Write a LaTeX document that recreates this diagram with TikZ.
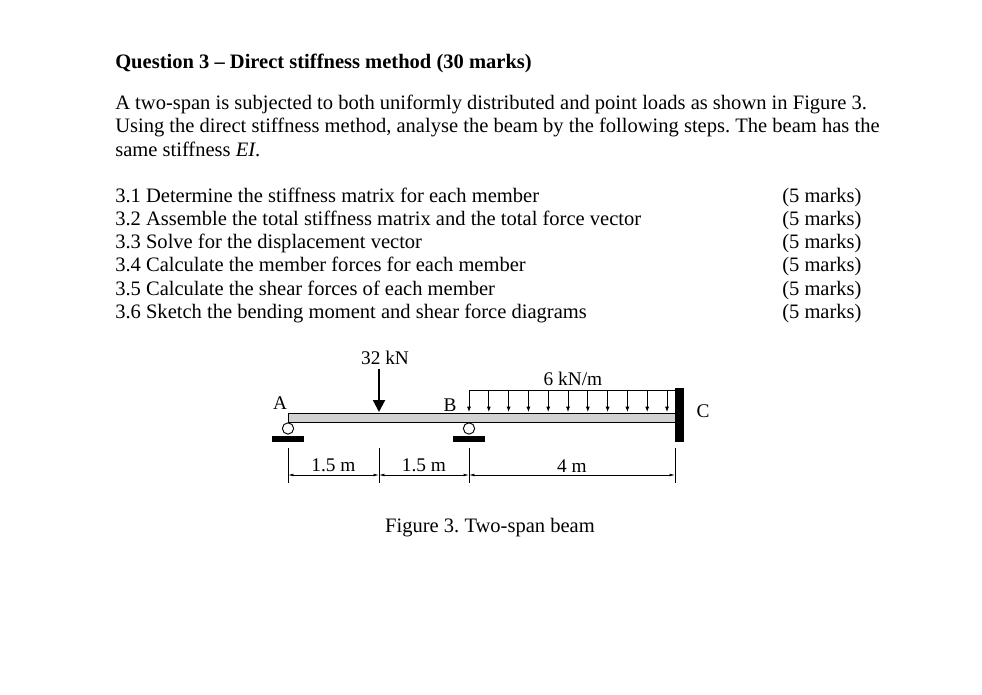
\documentclass[tikz,border=0pt]{standalone}
\usepackage{fontspec}
\setmainfont{Liberation Serif}
\usetikzlibrary{arrows.meta}
\frenchspacing
\begin{document}
\begin{tikzpicture}[x=0.75pt,y=-0.75pt,
  txt/.style={anchor=base west,inner sep=0pt,font=\fontsize{15.4}{17}\selectfont},
  sm/.style={inner sep=0pt,font=\fontsize{14.5}{16}\selectfont},
  dim/.style={{Latex[length=4pt,width=2pt]}-{Latex[length=4pt,width=2pt]},line width=0.5pt},
  ld/.style={-{Latex[length=4pt,width=3pt]},line width=0.6pt}]
\useasboundingbox (0,0) rectangle (982,695);
\node[txt,font=\bfseries\fontsize{15.4}{17}\selectfont] (t) at (115,69) {Question 3 -- Direct stiffness method (30 marks)};
\node[txt] (p1) at (115,110) {A two-span is subjected to both uniformly distributed and point loads as shown in Figure 3.};
\node[txt] (p2) at (115,133) {Using the direct stiffness method, analyse the beam by the following steps. The beam has the};
\node[txt] (p3) at (115,157) {same stiffness \textit{EI}.};
\foreach \i/\s/\y in {1/Determine the stiffness matrix for each member/203,
  2/Assemble the total stiffness matrix and the total force vector/226,
  3/Solve for the displacement vector/249,
  4/Calculate the member forces for each member/272,
  5/Calculate the shear forces of each member/296,
  6/Sketch the bending moment and shear force diagrams/319}{
  \node[txt] (q\i) at (115,\y) {3.\i\ \s};
  \node[txt] (m\i) at (782,\y) {(5 marks)};
}
% beam
\fill[gray!35] (288,413) rectangle (675,422);
\draw[line width=0.7pt] (288,413) rectangle (675,422);
\node[fill=black,minimum width=9pt*0.75,minimum height=54pt*0.75,inner sep=0pt] (wall) at (679.5,415) {};
% supports
\foreach \x/\n in {288/a,469/b}{
  \node[circle,draw,line width=0.7pt,minimum size=8.5pt,inner sep=0pt,fill=white] (s\n) at (\x,428.5) {};
  \fill (\x-16,436) rectangle (\x+16,442);
}
% point load
\coordinate (pt) at (379,369);
\coordinate (pb) at (379,412);
\draw[-{Triangle[length=9pt,width=9pt]},line width=1.6pt] (pt) -- (pb);
\node[sm] (lp) at (385,358) {32 kN};
% UDL
\draw[line width=0.6pt] (469,390) -- (675,390);
\foreach \k in {0,...,10}{
  \coordinate (u\k) at ({469+\k*19.8},390);
  \coordinate (v\k) at ({469+\k*19.8},412);
  \draw[ld] (u\k) -- (v\k);
}
\node[sm] (lw) at (573,379) {6 kN/m};
\node[sm] (la) at (280,403) {A};
\node[sm] (lb) at (450,405) {B};
\node[sm] (lc) at (703,411) {C};
% dimensions
\foreach \x/\n in {288/0,379/1,469/2,675/3}{
  \draw[line width=0.5pt] (\x,448) -- (\x,483);
  \coordinate (d\n) at (\x,475);
}
\draw[dim] (d0) -- node[sm,above=2pt] {1.5 m} (d1);
\draw[dim] (d1) -- node[sm,above=2pt] {1.5 m} (d2);
\draw[dim] (d2) -- node[sm,above=2pt] {4 m} (d3);
\node[sm,font=\fontsize{15.4}{17}\selectfont] (cap) at (490,528) {Figure 3. Two-span beam};
\end{tikzpicture}
\end{document}
